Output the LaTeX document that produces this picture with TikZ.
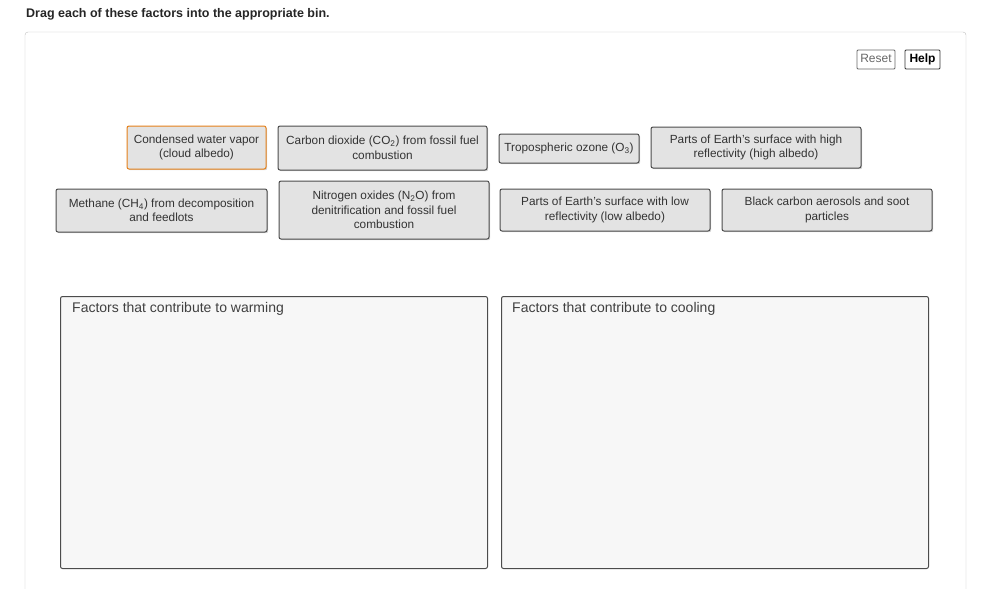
\documentclass[tikz,border=0pt]{standalone}
\usepackage{fontspec}
\setmainfont{Liberation Sans}
\usetikzlibrary{shadows}
\newcommand{\sbs}[1]{\textsubscript{#1}}
\begin{document}
\begin{tikzpicture}[x=1pt,y=-1pt,
  chip/.style={draw=black!70,line width=1pt,fill=black!11,rounded corners=2pt,
    drop shadow={shadow xshift=1.2pt,shadow yshift=-1.2pt,opacity=0.35},
    font=\fontsize{11.8}{14.5}\selectfont,text=black!80,align=center,inner sep=0pt},
  bin/.style={draw=black!70,line width=1pt,fill=black!3,rounded corners=2pt},
  btn/.style={draw=black!60,line width=0.9pt,rounded corners=1pt,font=\fontsize{12}{13}\selectfont,inner sep=0pt,text height=9pt,text depth=2.5pt}]
\useasboundingbox (0,0) rectangle (991,589);
\node[anchor=west,inner sep=0pt,font=\bfseries\fontsize{12.5}{14}\selectfont,text=black!85] (title) at (26,14) {Drag each of these factors into the appropriate bin.};
\draw[black!25,rounded corners=3pt] (25,600) -- (25,32) -- (966,32) -- (966,600);
\node[btn,text=black!60,minimum width=38pt,minimum height=19pt] (reset) at (876,59.5) {Reset};
\node[btn,draw=black!80,font=\bfseries\fontsize{12}{13}\selectfont,minimum width=35pt,minimum height=19pt] (help) at (922.5,59.5) {Help};
\node[chip,draw=orange!60!brown,minimum width=139pt,minimum height=43pt] (c1) at (196.5,147.5) {Condensed water vapor\\(cloud albedo)};
\node[chip,minimum width=209pt,minimum height=44pt] (c2) at (382.5,148) {Carbon dioxide (CO\sbs{2}) from fossil fuel\\combustion};
\node[chip,minimum width=140pt,minimum height=29pt] (c3) at (569,148.5) {Tropospheric ozone (O\sbs{3})};
\node[chip,minimum width=210pt,minimum height=41pt] (c4) at (756,147.5) {Parts of Earth's surface with high\\reflectivity (high albedo)};
\node[chip,minimum width=211pt,minimum height=43pt] (c5) at (161.5,210.5) {Methane (CH\sbs{4}) from decomposition\\and feedlots};
\node[chip,minimum width=210pt,minimum height=58pt] (c6) at (384,210) {Nitrogen oxides (N\sbs{2}O) from\\denitrification and fossil fuel\\combustion};
\node[chip,minimum width=210pt,minimum height=42pt] (c7) at (605,210) {Parts of Earth's surface with low\\reflectivity (low albedo)};
\node[chip,minimum width=210pt,minimum height=42pt] (c8) at (827,210) {Black carbon aerosols and soot\\particles};
\node[bin,minimum width=427pt,minimum height=272pt,anchor=north west] (b1) at (60,296) {};
\node[bin,minimum width=427pt,minimum height=272pt,anchor=north west] (b2) at (501,296) {};
\node[anchor=west,inner sep=0pt,font=\fontsize{14}{16}\selectfont,text=black!75] (t1) at (72,309) {Factors that contribute to warming};
\node[anchor=west,inner sep=0pt,font=\fontsize{14}{16}\selectfont,text=black!75] (t2) at (512,309) {Factors that contribute to cooling};
\end{tikzpicture}
\end{document}
